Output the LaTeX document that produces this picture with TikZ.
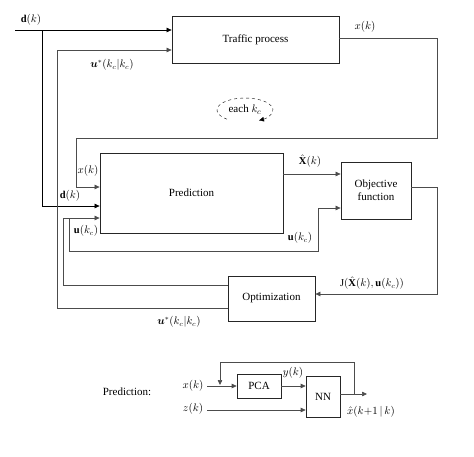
\documentclass[tikz,border=0pt]{standalone}
\usepackage{amsmath,amssymb,bm}
\usepackage{fontspec}
\setmainfont{Liberation Serif}
\usetikzlibrary{arrows.meta}

\tikzset{
     blk/.style={draw=black!85, thick, inner sep=0pt, align=center, font=\fontsize{11}{13}\selectfont},
     lnk/.style={draw=black!70, semithick},
     arr/.style={lnk, -{Triangle[length=5pt,width=4.5pt]}},
     lbl/.style={inner sep=0pt, font=\fontsize{10.5}{12}\selectfont},
}

\begin{document}
\begin{tikzpicture}[x=1pt,y=-1pt]
     \useasboundingbox (0,0) rectangle (474,456);
     \node[blk, minimum width=167pt, minimum height=47pt] (traffic) at (255.5,39.5) {Traffic process};
     \node[blk, minimum width=183pt, minimum height=80pt] (pred) at (191.5,193) {Prediction};
     \node[blk, minimum width=70pt, minimum height=57pt] (obj) at (376,190.5) {Objective\\function};
     \node[blk, minimum width=87pt, minimum height=45pt] (opt) at (271.5,298.5) {Optimization};

     \coordinate (din) at (15,30);
     \coordinate (dsplit) at (42,30);
     \coordinate (usplit) at (69,218);

     \draw[arr, draw=black] (din) -- (din -| traffic.west);
     \draw[arr, draw=black] (dsplit) |- (pred.west |- 0,206);
     \draw[arr] (opt.west |- 0,308) -| (57,50) -- (traffic.west |- 0,50);
     \draw[arr] (opt.west |- 0,285) -| (63,218) -- (pred.west |- 0,218);
     \draw[arr] (usplit) |- (318,251) |- (obj.west |- 0,208);
     \draw[arr] (traffic.east |- 0,38) -| (437,138) -| (76,187) -- (pred.west |- 0,187);
     \draw[arr] (pred.east |- 0,174) -- (obj.west |- 0,174);
     \draw[arr] (obj.east |- 0,187) -| (437,294) -- (opt.east |- 0,294);

     \node[lbl] (dk) at (31,20) {$\mathbf{d}(k)$};
     \node[lbl] (ustartop) at (112,65) {$\bm{u}^{*}(k_c|k_c)$};
     \node[lbl] (xktop) at (365,27) {$x(k)$};
     \node[lbl] (xkin) at (88,171) {$x(k)$};
     \node[lbl] (dkin) at (70,196) {$\mathbf{d}(k)$};
     \node[lbl] (ukin) at (86,231) {$\mathbf{u}(k_c)$};
     \node[lbl] (xhat) at (310,161) {$\hat{\mathbf{X}}(k)$};
     \node[lbl] (ukobj) at (300,238) {$\mathbf{u}(k_c)$};
     \node[lbl] (jlbl) at (372,283) {$\mathrm{J}(\hat{\mathbf{X}}(k),\mathbf{u}(k_c))$};
     \node[lbl] (ustarbot) at (179,322) {$\bm{u}^{*}(k_c|k_c)$};

     \node[lbl, font=\fontsize{11}{13}\selectfont] (each) at (245,110) {each $k_c$};
     \draw[dashed, -{Triangle[length=5pt,width=4.5pt]}] (each.center) ++(230:28pt and 12pt)
          arc[start angle=230, end angle=-60, x radius=28pt, y radius=12pt];

     % the prediction block in detail
     \node[lbl, font=\fontsize{11}{13}\selectfont] (predlbl) at (127,392) {Prediction:};
     \node[blk, semithick, minimum width=44pt, minimum height=24pt] (pca) at (259,386) {PCA};
     \node[blk, semithick, minimum width=34pt, minimum height=41pt] (nn) at (323,396.5) {NN};
     \node[lbl] (xkp) at (193,386) {$x(k)$};
     \node[lbl] (zkp) at (193,409) {$z(k)$};
     \node[lbl] (ykp) at (293,373) {$y(k)$};
     \node[lbl] (xhatp) at (371,412) {$\hat{x}(k{+}1\,|\,k)$};

     \coordinate (nnout) at (367,394);
     \coordinate (fbsplit) at (354,394);
     \draw[arr] (207,386) -- (pca.west);
     \draw[arr] (pca.east) -- (nn.west |- pca.east);
     \draw[arr] (207,410) -- (nn.west |- 0,410);
     \draw[arr] (nn.east |- nnout) -- (nnout);
     \draw[arr] (fbsplit) |- (220,362) -- (220,385);
\end{tikzpicture}
\end{document}
